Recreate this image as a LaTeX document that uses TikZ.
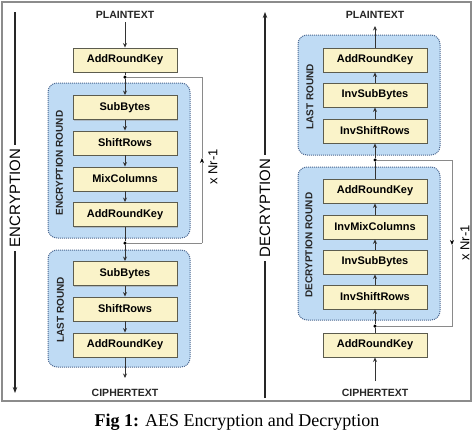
\documentclass[tikz,border=0pt]{standalone}
\usepackage{fontspec}
\setmainfont{Liberation Serif}
\setsansfont{Liberation Sans}
\usetikzlibrary{arrows.meta,shadows}
\definecolor{boxfill}{HTML}{FAF3C9}
\definecolor{boxdraw}{HTML}{5C5C4E}
\definecolor{contfill}{HTML}{BFDBF4}
\definecolor{contdraw}{HTML}{4B6790}
\definecolor{loopgray}{HTML}{8A8A8A}
\definecolor{framegray}{HTML}{8C8C8C}
\tikzset{
  opbox/.style={rectangle, draw=boxdraw, line width=0.9pt, fill=boxfill,
    minimum width=104pt, minimum height=24pt, inner sep=0pt,
    font=\sffamily\bfseries\fontsize{11}{13}\selectfont,
    drop shadow={shadow xshift=1.2pt, shadow yshift=-1.2pt, fill=black!40}},
  container/.style={rectangle, rounded corners=9pt, fill=contfill, draw=contdraw,
    densely dotted, line width=1pt, inner sep=0pt},
  roundlabel/.style={rotate=90, font=\sffamily\bfseries\fontsize{10}{12}\selectfont, text=black!85},
  endtext/.style={font=\sffamily\bfseries\fontsize{10.5}{12}\selectfont, text=black!85},
  flow/.style={draw=black!80, line width=0.8pt, -{Stealth[length=4.5pt,width=4pt]}},
  flowplain/.style={draw=black!80, line width=0.8pt},
  loopline/.style={draw=loopgray, line width=0.8pt},
  looparrow/.style={draw=loopgray, line width=0.8pt, -{Stealth[length=5pt,width=4pt,color=black]}},
  jdot/.style={circle, fill=black, inner sep=0pt, minimum size=3.5pt},
  nrlabel/.style={rotate=90, font=\sffamily\fontsize{13}{15}\selectfont},
  sidelabel/.style={rotate=90, fill=white, inner xsep=4pt, inner ysep=1pt, font=\sffamily\fontsize{15}{17}\selectfont},
  sidearrow/.style={draw=black!85, line width=1.1pt, -{Stealth[length=6pt,width=4.5pt]}}
}
\begin{document}
\begin{tikzpicture}[x=1pt,y=-1pt]
\useasboundingbox (0,0) rectangle (474,434);
\fill[white] (0,0) rectangle (474,434);
\draw[framegray, line width=1.6pt] (2,2) rectangle (471,401);

% ---------- side arrows ----------
\coordinate (encTop) at (15,12);
\coordinate (encBot) at (15,393);
\draw[sidearrow] (encTop) -- (encBot);
\node[sidelabel] (encLabel) at (15,198) {ENCRYPTION};

\coordinate (decBot) at (265,398);
\coordinate (decTop) at (265,12);
\draw[sidearrow] (decBot) -- (decTop);
\node[sidelabel] (decLabel) at (265,208) {DECRYPTION};

% ---------- encryption ----------
\node[container, minimum width=142pt, minimum height=155pt] (encRound) at (119,160.5) {};
\node[container, minimum width=142pt, minimum height=117pt] (lastRoundL) at (119,308.5) {};
\node[roundlabel] (encRoundLabel) at (59.5,163) {ENCRYPTION ROUND};
\node[roundlabel] (lastRoundLLabel) at (60.5,310) {LAST ROUND};

\node[endtext] (ptL) at (125,15) {PLAINTEXT};
\node[opbox] (arkL0) at (125,60) {AddRoundKey};
\node[opbox] (sbL1) at (125,107.5) {SubBytes};
\node[opbox] (srL1) at (125,143) {ShiftRows};
\node[opbox] (mcL1) at (125,179) {MixColumns};
\node[opbox] (arkL1) at (125,214.5) {AddRoundKey};
\node[opbox] (sbL2) at (125,273.5) {SubBytes};
\node[opbox] (srL2) at (125,309) {ShiftRows};
\node[opbox] (arkL2) at (125,345) {AddRoundKey};
\node[endtext] (ctL) at (125,393) {CIPHERTEXT};
\coordinate (endL) at (125,378);

\node[jdot] (dotL1) at (125,77) {};
\node[jdot] (dotL2) at (125,243) {};
\coordinate (cL1) at (202,77);
\coordinate (cL2) at (202,243);
\coordinate (cLm) at (202,158);

\draw[flow] (ptL) -- (arkL0);
\draw[flowplain] (arkL0) -- (dotL1);
\draw[flow] (dotL1) -- (sbL1);
\draw[flow] (sbL1) -- (srL1);
\draw[flow] (srL1) -- (mcL1);
\draw[flow] (mcL1) -- (arkL1);
\draw[flowplain] (arkL1) -- (dotL2);
\draw[flow] (dotL2) -- (sbL2);
\draw[flow] (sbL2) -- (srL2);
\draw[flow] (srL2) -- (arkL2);
\draw[flow] (arkL2) -- (endL);

\draw[loopline] (dotL2) -- (cL2);
\draw[looparrow] (cL2) -- (cLm);
\draw[loopline] (cLm) -- (cL1) -- (dotL1);
\node[nrlabel] (nrL) at (213,167) {x Nr-1};

% ---------- decryption ----------
\node[container, minimum width=142pt, minimum height=120pt] (lastRoundR) at (369,95) {};
\node[container, minimum width=142pt, minimum height=153pt] (decRound) at (369,243.5) {};
\node[roundlabel] (lastRoundRLabel) at (310,97) {LAST ROUND};
\node[roundlabel] (decRoundLabel) at (309,245) {DECRYPTION ROUND};

\node[endtext] (ptR) at (375,15) {PLAINTEXT};
\coordinate (endR) at (375,26);
\node[opbox] (arkR2) at (375,60) {AddRoundKey};
\node[opbox] (isbR2) at (375,95) {InvSubBytes};
\node[opbox] (isrR2) at (375,131) {InvShiftRows};
\node[opbox] (arkR1) at (375,191) {AddRoundKey};
\node[opbox] (imcR1) at (375,227) {InvMixColumns};
\node[opbox] (isbR1) at (375,262) {InvSubBytes};
\node[opbox] (isrR1) at (375,297) {InvShiftRows};
\node[opbox] (arkR0) at (375,345) {AddRoundKey};
\node[endtext] (ctR) at (375,393) {CIPHERTEXT};
\coordinate (startR) at (375,381);

\node[jdot] (dotR1) at (375,160) {};
\node[jdot] (dotR2) at (375,326) {};
\coordinate (cR1) at (452,160);
\coordinate (cR2) at (452,326);
\coordinate (cRm) at (452,245);

\draw[flow] (startR) -- (arkR0);
\draw[flowplain] (arkR0) -- (dotR2);
\draw[flow] (dotR2) -- (isrR1);
\draw[flow] (isrR1) -- (isbR1);
\draw[flow] (isbR1) -- (imcR1);
\draw[flow] (imcR1) -- (arkR1);
\draw[flowplain] (arkR1) -- (dotR1);
\draw[flow] (dotR1) -- (isrR2);
\draw[flow] (isrR2) -- (isbR2);
\draw[flow] (isbR2) -- (arkR2);
\draw[flow] (arkR2) -- (endR);

\draw[loopline] (dotR1) -- (cR1);
\draw[looparrow] (cR1) -- (cRm);
\draw[loopline] (cRm) -- (cR2) -- (dotR2);
\node[nrlabel] (nrR) at (465,243) {x Nr-1};

% ---------- caption ----------
\node[font=\fontsize{18}{21}\selectfont] (caption) at (237,422) {\textbf{Fig 1:} AES Encryption and Decryption};
\end{tikzpicture}
\end{document}
